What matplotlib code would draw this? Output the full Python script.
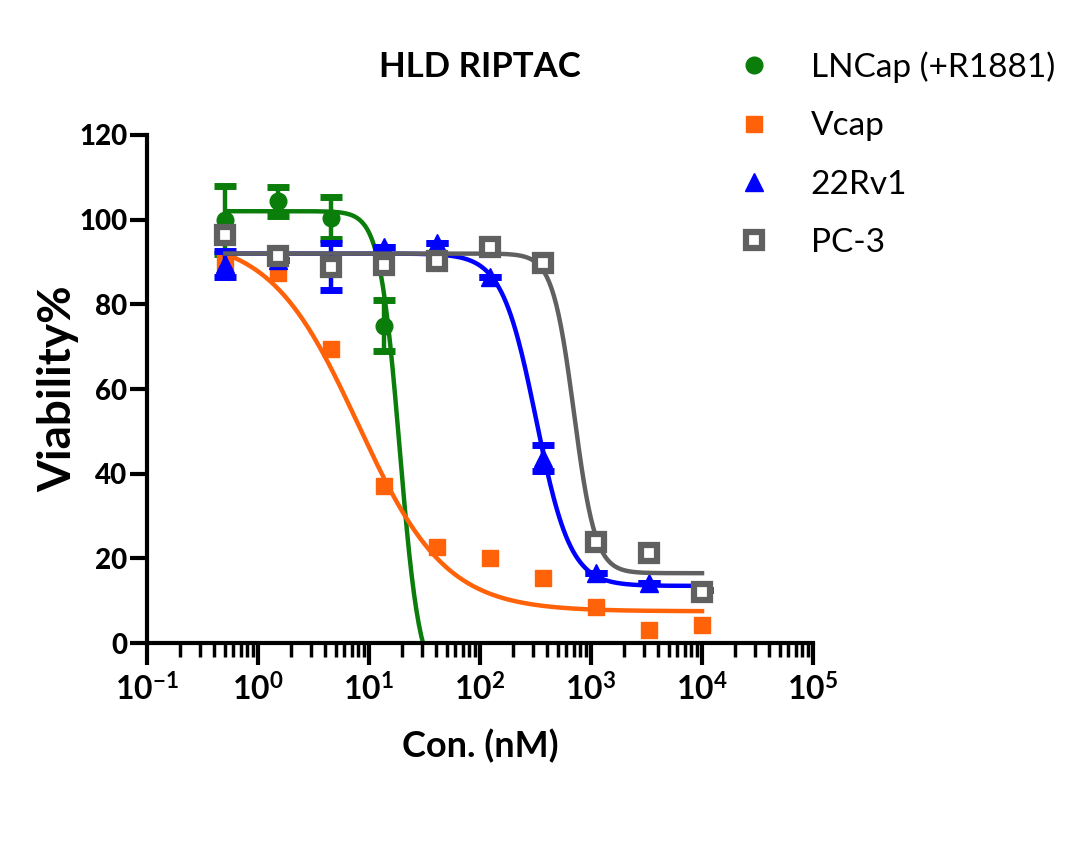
import numpy as np
import matplotlib
matplotlib.use('Agg')
import matplotlib.pyplot as plt
from matplotlib.lines import Line2D

plt.rcParams['font.family'] = ['Lato', 'DejaVu Sans']
plt.rcParams['mathtext.fontset'] = 'custom'
plt.rcParams['mathtext.rm'] = 'Lato'
plt.rcParams['mathtext.bf'] = 'Lato:bold'

# concentrations (nM), 3-fold dilution series
conc = [0.508, 1.52, 4.57, 13.7, 41.2, 123, 370, 1111, 3333, 10000]

# LNCap (+R1881): only the first 4 doses
lncap_x = conc[:4]
lncap_y = [100, 104.3, 100.4, 75]
lncap_err = [8, 3.5, 5, 6]

vcap_y = [90, 87.5, 69.5, 37, 22.8, 20, 15.3, 8.5, 3, 4.3]

rv1_y = [89.5, 90.5, 89, 93.6, 94.5, 86.5, 43.7, 16.5, 14.2, 12.5]
rv1_err = [3, 0, 5.5, 0, 0, 0, 3, 0, 0, 0]

pc3_y = [96.4, 91.4, 88.8, 89.3, 90.2, 93.6, 89.8, 23.9, 21.2, 12]

# 4PL fit parameters: top, bottom, logIC50, hill
lncap_fit = [102, -10, 1.276, 4.8]
vcap_fit = [96, 7.5, 0.9, 1.1]
rv1_fit = [92, 13.5, 2.506, 2.81]
pc3_fit = [92, 16.5, 2.847, 4.5]

labels = ['LNCap (+R1881)', 'Vcap', '22Rv1', 'PC-3']
colors = ['#0a7d0a', '#ff6208', '#0000ff', '#606060']


def four_pl(x, p):
    top, bottom, logc, h = p
    return bottom + (top - bottom) / (1 + 10 ** (h * (np.log10(x) - logc)))


fig = plt.figure(figsize=(10.8, 8.49), dpi=100)
ax = fig.add_axes([0.1361, 0.2426, 0.6167, 0.5984])

xs = np.logspace(np.log10(conc[0]), np.log10(conc[-1]), 400)
lw = 3.2
eb = dict(elinewidth=3.2, capsize=8, capthick=5)

# LNCap
ax.plot(xs, four_pl(xs, lncap_fit), color=colors[0], lw=lw, zorder=2)
ax.errorbar(lncap_x, lncap_y, yerr=lncap_err, fmt='o', color=colors[0],
            ms=12, zorder=2, **eb)

# Vcap
ax.plot(xs, four_pl(xs, vcap_fit), color=colors[1], lw=lw, zorder=3)
ax.plot(conc, vcap_y, 's', color=colors[1], ms=12, zorder=3)

# 22Rv1
ax.plot(xs, four_pl(xs, rv1_fit), color=colors[2], lw=lw, zorder=4)
ax.errorbar(conc, rv1_y, yerr=rv1_err, fmt='^', color=colors[2],
            ms=13, zorder=4, **eb)

# PC-3
ax.plot(xs, four_pl(xs, pc3_fit), color=colors[3], lw=lw, zorder=5)
ax.plot(conc, pc3_y, 's', mfc='white', mec=colors[3], mew=4.5, ms=11.5,
        zorder=5)

ax.set_xscale('log')
ax.set_xlim(0.1, 1e5)
ax.set_ylim(0, 120)
ax.set_yticks(range(0, 121, 20))
ax.set_xticks([10.0 ** k for k in range(-1, 6)])
ax.set_xticklabels([r'$\mathbf{10^{%d}}$' % k for k in range(-1, 6)])
ax.xaxis.set_minor_locator(matplotlib.ticker.LogLocator(base=10, subs=np.arange(2, 10), numticks=20))
ax.xaxis.set_minor_formatter(matplotlib.ticker.NullFormatter())

for s in ['top', 'right']:
    ax.spines[s].set_visible(False)
for s in ['left', 'bottom']:
    ax.spines[s].set_linewidth(3)
ax.tick_params(axis='y', which='major', width=3, length=12, labelsize=20,
               direction='out', pad=2)
ax.tick_params(axis='x', which='major', width=3, length=16, labelsize=23,
               pad=6)
ax.tick_params(axis='x', which='minor', width=2.5, length=10)
for t in ax.get_yticklabels():
    t.set_fontweight('black')

ax.set_title('HLD RIPTAC', fontsize=25, fontweight='bold', pad=42)
ax.set_xlabel('Con. (nM)', fontsize=26, fontweight='bold', labelpad=16)
ax.set_ylabel('Viability%', fontsize=33, fontweight='bold', labelpad=0)

handles = [
    Line2D([], [], ls='none', marker='o', color=colors[0], ms=12),
    Line2D([], [], ls='none', marker='s', color=colors[1], ms=12),
    Line2D([], [], ls='none', marker='^', color=colors[2], ms=13),
    Line2D([], [], ls='none', marker='s', mfc='white', mec=colors[3],
           mew=4.5, ms=11.5),
]
fig.legend(handles, labels, loc='upper left', bbox_to_anchor=(0.652, 0.975),
           frameon=False, fontsize=24, labelspacing=0.85,
           handletextpad=1.1, handlelength=1.2)

fig.savefig('out.png', dpi=100)
